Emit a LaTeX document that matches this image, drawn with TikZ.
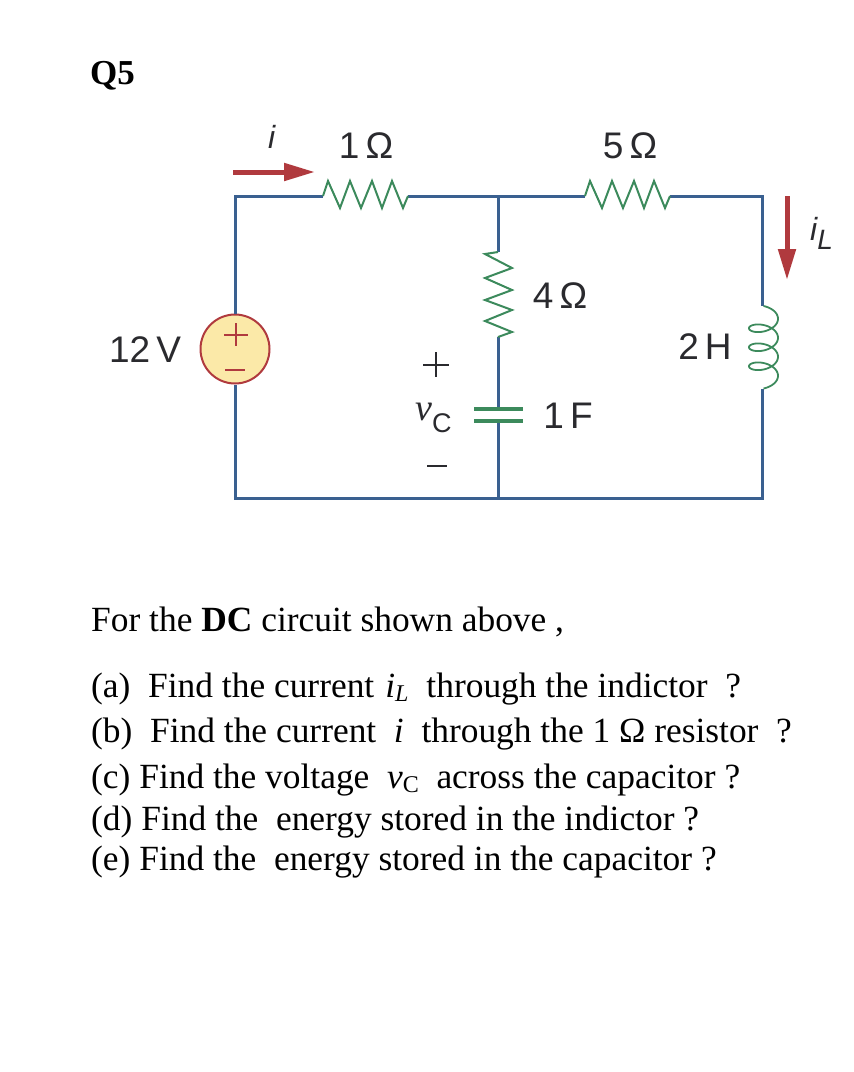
\documentclass[tikz,border=0pt]{standalone}
\usepackage{fontspec}
\setmainfont{Liberation Serif}
\newfontfamily\labelfont{Liberation Sans}
\usetikzlibrary{arrows.meta}
\definecolor{wireblue}{HTML}{3A6090}
\definecolor{partgreen}{HTML}{3C8A5C}
\definecolor{flowred}{HTML}{B03A3E}
\definecolor{sourcefill}{HTML}{FBE9A8}
\definecolor{inkdark}{HTML}{2A2A2E}
\tikzset{
    wire/.style={wireblue,line width=3pt},
    part/.style={partgreen,line width=2pt,line join=miter},
    plate/.style={partgreen,line width=3.6pt},
    flow/.style={flowred,line width=5pt,-{Triangle[length=31pt,width=17pt]}},
    lab/.style={inkdark,inner sep=0pt,anchor=base,font=\labelfont\fontsize{37}{37}\selectfont},
    sign/.style={inkdark,line width=2.4pt},
    txt/.style={black,inner sep=0pt,anchor=base west,font=\fontsize{35.4}{36}\selectfont},
}
\begin{document}
\begin{tikzpicture}[x=1pt,y=-1pt]
\useasboundingbox (0,0) rectangle (854,1072);
\coordinate (TL) at (235,196);
\coordinate (TM) at (498,196);
\coordinate (TR) at (762,196);
\coordinate (BL) at (235,498);
\coordinate (BM) at (498,498);
\coordinate (BR) at (762,498);
\node[circle,draw=flowred,fill=sourcefill,line width=2pt,minimum size=69pt,inner sep=0pt] (V) at (235,349) {};
% wires
\draw[wire,line join=miter] (V.north) -- (TL) -- (323,196);
\draw[wire] (408,196) -- (TM) -- (585,196);
\draw[wire,line join=miter] (670,196) -- (TR) -- (762,306);
\draw[wire,line join=miter] (762,389) -- (BR) -- (BL) -- (V.south);
\draw[wire] (TM) -- (498,252);
\draw[wire] (498,337) -- (498,409);
\draw[wire] (498,421) -- (BM);
% resistors
\draw[part] (323,196) -- (328,181) -- (340,208) -- (350,181) -- (361,208) -- (372,181) -- (382,208) -- (392,181) -- (403,208) -- (408,196);
\draw[part] (585,196) -- (590,181) -- (602,208) -- (612,181) -- (623,208) -- (634,181) -- (644,208) -- (654,181) -- (665,208) -- (670,196);
\draw[part] (498,252) -- (485,254) -- (512,268) -- (485,278) -- (512,290) -- (485,300) -- (512,310) -- (485,321) -- (512,332) -- (498,337);
% capacitor
\draw[plate] (474,409) -- (523,409);
\draw[plate] (474,421) -- (523,421);
% inductor
\draw[part,line width=1.8pt,smooth] plot[domain=-90:1170,samples=210] ({763.5+14.5*cos(\x)},{318.75+0.05278*\x+8*sin(\x)});
% source signs
\draw[flowred,line width=2.4pt] (224,335) -- (248,335) (236,323) -- (236,346);
\draw[flowred,line width=2.4pt] (225,370) -- (245,370);
% arrows
\draw[flow] (233,172) -- (315,172);
\draw[flow] (787,196) -- (787,280);
% circuit labels
\node[lab] (r1) at (366,158) {1\,Ω};
\node[lab] (r2) at (630,158) {5\,Ω};
\node[lab] (r3) at (560,308) {4\,Ω};
\node[lab] (cap) at (568,428) {1\,F};
\node[lab] (ind) at (705,359) {2\,H};
\node[lab] (src) at (145,362) {12\,V};
\node[lab,anchor=base west,font=\labelfont\itshape\fontsize{32}{32}\selectfont] (cur) at (268,148) {i};
\node[lab,anchor=base west] (iL) at (810,240) {\fontsize{32}{32}\selectfont\itshape i\raisebox{-9pt}{\fontsize{28}{28}\selectfont L}};
\node[lab,anchor=base west] (vc) at (415,420) {\fontsize{38}{38}\selectfont\rmfamily\itshape v\labelfont\upshape\raisebox{-12pt}{\fontsize{27}{27}\selectfont C}};
\draw[sign] (423,365) -- (449,365) (436,352) -- (436,377);
\draw[sign] (427,466) -- (447,466);
% text
\node[txt,font=\bfseries\fontsize{35}{35}\selectfont] (title) at (90,84) {Q5};
\node[txt] (lead) at (91,631) {For the \textbf{DC} circuit shown above ,};
\node[txt] (qa) at (91,697) {(a)\ \ Find the current\hspace{11pt}\textit{i}\raisebox{-4pt}{\fontsize{24}{24}\selectfont\textit{L}}\hspace{18pt}through the indictor\ \ ?};
\node[txt] (qb) at (91,742) {(b)\ \ Find the current\ \ \textit{i}\ \ through the 1 Ω resistor\ \ ?};
\node[txt] (qc) at (91,788) {(c) Find the voltage\ \ \textit{v}\raisebox{-4pt}{\fontsize{24}{24}\selectfont C}\ \ across the capacitor ?};
\node[txt] (qd) at (91,830) {(d) Find the\ \ energy stored in the indictor ?};
\node[txt] (qe) at (91,870) {(e) Find the\ \ energy stored in the capacitor ?};
\end{tikzpicture}
\end{document}
